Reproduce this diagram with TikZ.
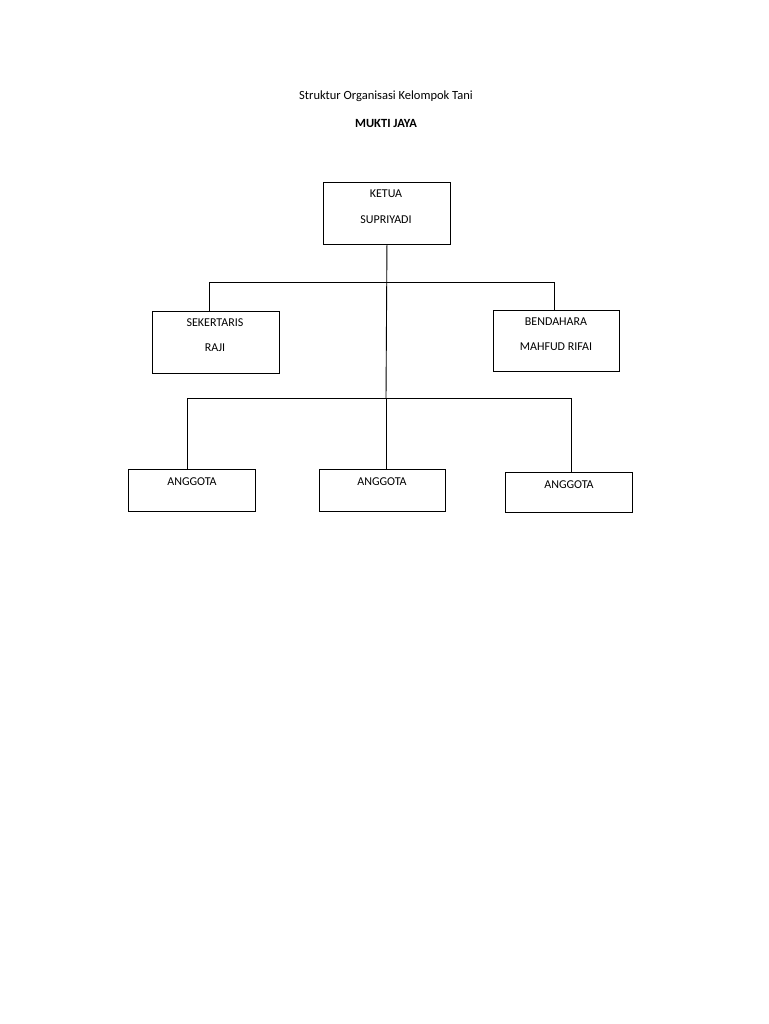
\documentclass[tikz,border=0pt]{standalone}
\usepackage{fontspec}
\setmainfont{Carlito}
\begin{document}
\begin{tikzpicture}[x=1pt,y=-1pt,
  box/.style={draw,line width=0.9pt,minimum width=127pt,inner sep=0pt,anchor=north west},
  lbl/.style={font=\fontsize{12}{14}\selectfont},
  ln/.style={line width=0.9pt}]
\useasboundingbox (0,0) rectangle (768,1024);
\node[font=\fontsize{12.5}{15}\selectfont] (t1) at (386,96) {Struktur Organisasi Kelompok Tani};
\node[font=\fontsize{12.5}{15}\selectfont\bfseries] (t2) at (386,123) {MUKTI JAYA};
\node[box,minimum height=62pt] (k) at (323,182) {};
\node[lbl] at (386,194) {KETUA};
\node[lbl] at (386,220) {SUPRIYADI};
\node[box,minimum height=62pt] (s) at (152,311) {};
\node[lbl] at (215,323) {SEKERTARIS};
\node[lbl] at (215,348) {RAJI};
\node[box,minimum height=61pt,minimum width=126pt] (b) at (493,310) {};
\node[lbl] at (556,322) {BENDAHARA};
\node[lbl] at (556,347) {MAHFUD RIFAI};
\node[box,minimum height=42pt] (a1) at (128,469) {};
\node[lbl] at (192,482) {ANGGOTA};
\node[box,minimum height=42pt,minimum width=126pt] (a2) at (319,469) {};
\node[lbl] at (382,482) {ANGGOTA};
\node[box,minimum height=40pt] (a3) at (505,472) {};
\node[lbl] at (569,485) {ANGGOTA};
\coordinate (j1) at (386,282);
\coordinate (j2) at (386,398);
\draw[ln] (k.south) -- (j2);
\draw[ln] (s.north -| 209,0) -- (209,282) -- (554,282) -- (b.north -| 554,0);
\draw[ln] (a1.north -| 187,0) -- (187,398) -- (571,398) -- (a3.north -| 571,0);
\draw[ln] (j2) -- (a2.north -| 386,0);
\end{tikzpicture}
\end{document}
